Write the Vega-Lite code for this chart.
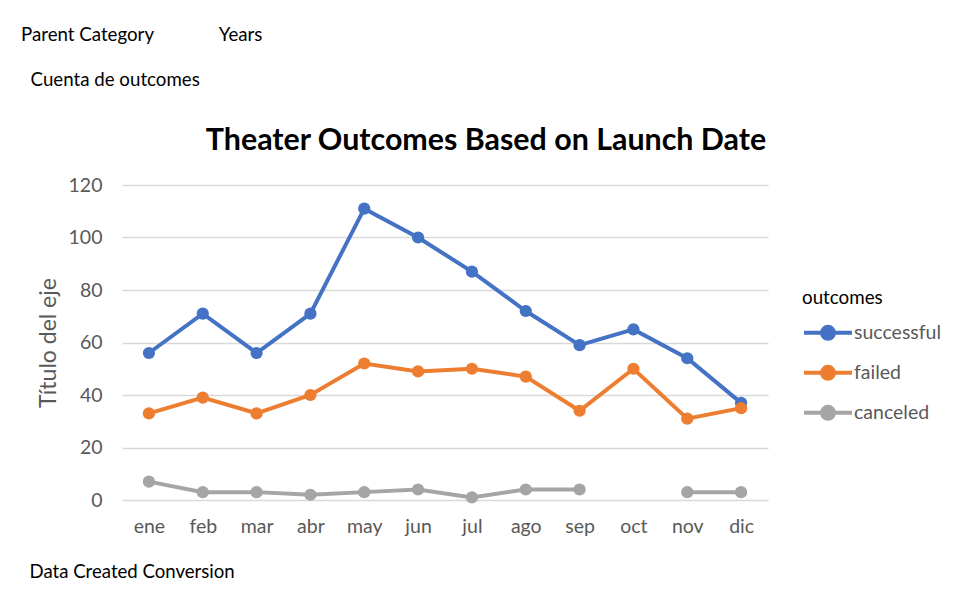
{
  "$schema": "https://vega.github.io/schema/vega-lite/v6.json",
  "background": "white",
  "padding": {"left": 21, "top": 26, "right": 5, "bottom": 5},
  "config": {"font": "Lato", "view": {"stroke": null}, "concat": {"spacing": 0}},
  "title": {
    "text": "Parent Category\u2003\u2003\u2003\u2002\u2002\u00a0Years",
    "subtitle": "\u200b\u00a0\u00a0Cuenta de outcomes",
    "anchor": "start",
    "frame": "bounds",
    "dx": -8,
    "fontSize": 18.7,
    "fontWeight": "normal",
    "color": "#000000",
    "subtitleFontSize": 18.7,
    "subtitleColor": "#000000",
    "subtitlePadding": 26,
    "offset": 36
  },
  "vconcat": [
    {
      "width": 646,
      "height": 315,
      "title": {
        "text": "Theater Outcomes Based on Launch Date",
        "fontSize": 30.4,
        "fontWeight": "bold",
        "color": "#000000",
        "dx": 41,
        "offset": 19
      },
      "data": {
        "values": [
          {"month": "ene", "outcome": "successful", "count": 56},
          {"month": "feb", "outcome": "successful", "count": 71},
          {"month": "mar", "outcome": "successful", "count": 56},
          {"month": "abr", "outcome": "successful", "count": 71},
          {"month": "may", "outcome": "successful", "count": 111},
          {"month": "jun", "outcome": "successful", "count": 100},
          {"month": "jul", "outcome": "successful", "count": 87},
          {"month": "ago", "outcome": "successful", "count": 72},
          {"month": "sep", "outcome": "successful", "count": 59},
          {"month": "oct", "outcome": "successful", "count": 65},
          {"month": "nov", "outcome": "successful", "count": 54},
          {"month": "dic", "outcome": "successful", "count": 37},
          {"month": "ene", "outcome": "failed", "count": 33},
          {"month": "feb", "outcome": "failed", "count": 39},
          {"month": "mar", "outcome": "failed", "count": 33},
          {"month": "abr", "outcome": "failed", "count": 40},
          {"month": "may", "outcome": "failed", "count": 52},
          {"month": "jun", "outcome": "failed", "count": 49},
          {"month": "jul", "outcome": "failed", "count": 50},
          {"month": "ago", "outcome": "failed", "count": 47},
          {"month": "sep", "outcome": "failed", "count": 34},
          {"month": "oct", "outcome": "failed", "count": 50},
          {"month": "nov", "outcome": "failed", "count": 31},
          {"month": "dic", "outcome": "failed", "count": 35},
          {"month": "ene", "outcome": "canceled", "count": 7},
          {"month": "feb", "outcome": "canceled", "count": 3},
          {"month": "mar", "outcome": "canceled", "count": 3},
          {"month": "abr", "outcome": "canceled", "count": 2},
          {"month": "may", "outcome": "canceled", "count": 3},
          {"month": "jun", "outcome": "canceled", "count": 4},
          {"month": "jul", "outcome": "canceled", "count": 1},
          {"month": "ago", "outcome": "canceled", "count": 4},
          {"month": "sep", "outcome": "canceled", "count": 4},
          {"month": "oct", "outcome": "canceled", "count": null},
          {"month": "nov", "outcome": "canceled", "count": 3},
          {"month": "dic", "outcome": "canceled", "count": 3}
        ]
      },
      "encoding": {
        "x": {
          "field": "month",
          "type": "ordinal",
          "sort": null,
          "scale": {"type": "point", "padding": 0.5, "domain": ["ene","feb","mar","abr","may","jun","jul","ago","sep","oct","nov","dic"]},
          "axis": {
            "labelAngle": 0,
            "labelFontSize": 19.5,
            "labelColor": "#595959",
            "labelPadding": 17,
            "domain": false,
            "ticks": false,
            "grid": false,
            "title": "Data Created Conversion",
            "titleFontSize": 18.6,
            "titleFontWeight": "normal",
            "titleColor": "#000000",
            "titleAnchor": "start",
            "titleAlign": "left",
            "titleBaseline": "middle",
            "titleX": -93,
            "titleY": 71
          }
        },
        "y": {
          "field": "count",
          "type": "quantitative",
          "scale": {"domain": [0, 120], "nice": false},
          "axis": {
            "values": [0, 20, 40, 60, 80, 100, 120],
            "labelFontSize": 19.5,
            "labelColor": "#595959",
            "labelPadding": 20,
            "domain": false,
            "ticks": false,
            "gridColor": "#d9d9d9",
            "gridWidth": 1.5,
            "title": "Título del eje",
            "titleFontSize": 23,
            "titleFontWeight": "normal",
            "titleColor": "#595959",
            "titlePadding": 8
          }
        },
        "color": {
          "field": "outcome",
          "type": "nominal",
          "scale": {"domain": ["successful", "failed", "canceled"], "range": ["#4472C4", "#ED7D31", "#A5A5A5"]},
          "legend": {
            "orient": "none",
            "legendX": 680,
            "legendY": 104,
            "title": "outcomes",
            "titleFontSize": 18.8,
            "titleFontWeight": "normal",
            "titleColor": "#000000",
            "titlePadding": -1,
            "labelFontSize": 19.5,
            "labelColor": "#595959",
            "labelOffset": 0,
            "rowPadding": 0,
            "symbolType": "M-1,0H1M0.25,0A0.25,0.25,0,1,1,-0.25,0A0.25,0.25,0,1,1,0.25,0Z",
            "symbolSize": 2304,
            "symbolStrokeWidth": 4
          }
        }
      },
      "layer": [
        {"mark": {"type": "line", "strokeWidth": 4, "invalid": "break-paths-show-domains"}},
        {"mark": {"type": "circle", "size": 150, "opacity": 1}}
      ]
    }
  ]
}
